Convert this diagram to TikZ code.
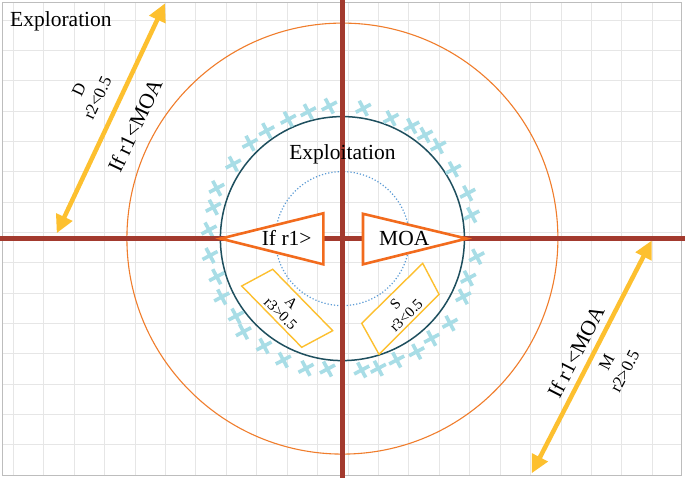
\documentclass[tikz,border=0pt]{standalone}
\usepackage{fontspec}
\setmainfont{Liberation Serif}
\usetikzlibrary{arrows.meta}
\definecolor{gridc}{HTML}{E6E6E6}
\definecolor{framec}{HTML}{BDBDBD}
\definecolor{axisc}{HTML}{A33A2E}
\definecolor{outerc}{HTML}{F07D2C}
\definecolor{tealc}{HTML}{1E4F5E}
\definecolor{dotc}{HTML}{5B9BD5}
\definecolor{trio}{HTML}{F26B1D}
\definecolor{yelc}{HTML}{FDC02F}
\definecolor{crossc}{HTML}{A8DDE6}
\newcommand{\mybigfont}{\fontsize{21.5}{25}\selectfont}
\newcommand{\mymidfont}{\fontsize{17}{20.5}\selectfont}
\newcommand{\mysmallfont}{\fontsize{15}{15.5}\selectfont}
\tikzset{
  gridline/.style={draw=gridc, line width=0.9pt},
  axisline/.style={draw=axisc, line width=5pt},
  tri/.style={draw=trio, line width=2.6pt, fill=white, line join=miter},
  ybox/.style={draw=yelc, line width=1.4pt, fill=white},
  yarrow/.style={draw=yelc, line width=4.5pt,
    {Triangle[length=18pt,width=17pt]}-{Triangle[length=18pt,width=17pt]}},
  crossmark/.style={draw=crossc, line width=3.6pt},
  bigtext/.style={font=\mybigfont, inner sep=0pt},
  midtext/.style={font=\mymidfont, inner sep=0pt, align=center},
  smalltext/.style={font=\mysmallfont, inner sep=0pt, align=center},
}
\begin{document}
\begin{tikzpicture}[x=1pt,y=-1pt]
\useasboundingbox (0,0) rectangle (685,478);
\fill[white] (0,0) rectangle (685,478);
% grid
\foreach \k in {0,...,21} \draw[gridline] ({13.3+30.43*\k},2.7) -- ({13.3+30.43*\k},475.3);
\foreach \k in {0,...,14} \draw[gridline] (2.7,{20+30.35*\k}) -- (681.7,{20+30.35*\k});
\draw[draw=framec, line width=1.3pt] (2.7,2.7) rectangle (681.7,475.3);
% centre
\coordinate (O) at (342.4,238.6);
% circles
\draw[draw=outerc, line width=1.1pt] (O) circle[radius=215.5pt];
\draw[draw=tealc, line width=1.5pt] (O) circle[radius=122pt];
\draw[draw=dotc, line width=1.2pt, dotted] (O) circle[radius=67pt];
% crosses
\foreach \px/\py in {329.3/106, 308.3/111.7, 288.3/119.3, 266.7/130.7, 250/143.3, 233.3/164, 216.7/188.3, 213.3/207.3, 209/230,
  210/255.5, 216.7/276.7, 221.7/297, 236/316, 243.5/331.7, 264/346, 283.3/360, 306/368.3, 327.5/369,
  363.3/108.3, 391/118.3, 411.7/126, 425/135, 438.3/146, 453.3/169.3, 467.7/193.3, 471.7/215,
  476.7/256.7, 468.3/278.3, 463.3/296.7, 450/323.3, 431.7/338.3, 416.7/351.7, 396.7/360, 378.3/368.3, 361.7/370}
  \draw[crossmark, shift={(\px,\py)}, rotate=28] (-8.5,0) -- (8.5,0) (0,-8.5) -- (0,8.5);
% axes
\coordinate (hL) at (0,238.6);
\coordinate (hR) at (685,238.6);
\coordinate (vT) at (342.4,0);
\coordinate (vB) at (342.4,478);
\draw[axisline] (hL) -- (hR);
\draw[axisline] (vT) -- (vB);
% triangles
\draw[tri] (220.7,238.6) -- (323.3,213.3) -- (323.3,264.3) -- cycle;
\draw[tri] (363,213.8) -- (466.7,238.6) -- (363,264.3) -- cycle;
\node[bigtext] (ifr) at (286.7,238.3) {If r1>};
\node[bigtext] (moa) at (404.3,238.8) {MOA};
% labels
\node[bigtext, anchor=base west] (explor) at (10,26.7) {Exploration};
\node[bigtext, anchor=base] (exploit) at (342.4,160) {Exploitation};
% yellow boxes
\draw[ybox] (241.7,286) -- (272.7,269.3) -- (332.7,330.7) -- (301.7,347.3) -- cycle;
\node[smalltext, rotate=-45] (boxA) at (286,308.3) {A\\r3>0.5};
\draw[ybox] (422.7,263.3) -- (439,294.3) -- (379,354.3) -- (361.7,323.3) -- cycle;
\node[smalltext, rotate=45] (boxS) at (400.8,310) {S\\r3<0.5};
% yellow arrows
\coordinate (a1t) at (165,3.3);
\coordinate (a1b) at (56.7,233.3);
\draw[yarrow] (a1b) -- (a1t);
\node[bigtext, rotate=64.8] (lab1) at (135,125.5) {If r1<MOA};
\node[midtext, rotate=64.8] (lab1s) at (88.3,93.7) {D\\r2<0.5};
\coordinate (a2t) at (651.7,240.5);
\coordinate (a2b) at (531.7,473.3);
\draw[yarrow] (a2b) -- (a2t);
\node[bigtext, rotate=62.8] (lab2) at (575.8,351.7) {If r1<MOA};
\node[midtext, rotate=62.8] (lab2s) at (615.8,366.7) {M\\r2>0.5};
\end{tikzpicture}
\end{document}
